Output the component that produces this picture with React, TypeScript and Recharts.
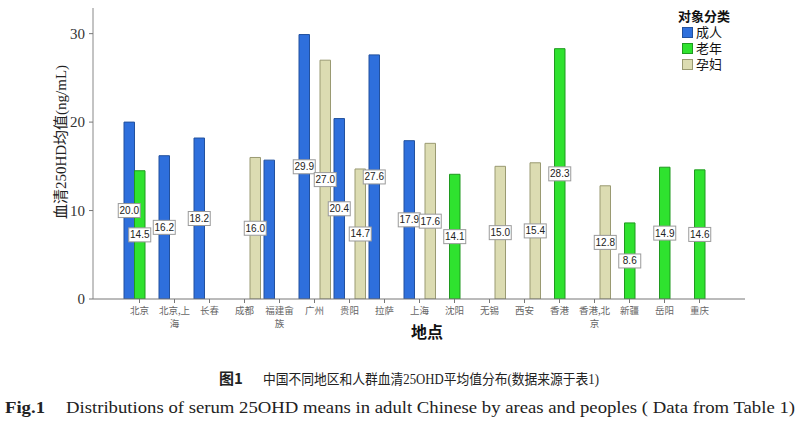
import React from "react";
import { BarChart, Bar, XAxis, YAxis, LabelList } from "recharts";

const categories = [
  "北京", "北京,上\n海", "长春", "成都", "福建畲\n族", "广州", "贵阳", "拉萨", "上海",
  "沈阳", "无锡", "西安", "香港", "香港,北\n京", "新疆", "岳阳", "重庆",
];
const adult = [20.0, 16.2, 18.2, null, 15.7, 29.9, 20.4, 27.6, 17.9, null, null, null, null, null, null, null, null];
const elderly = [14.5, null, null, null, null, null, null, null, null, 14.1, null, null, 28.3, null, 8.6, 14.9, 14.6];
const pregnant = [null, null, null, 16.0, null, 27.0, 14.7, null, 17.6, null, 15.0, 15.4, null, 12.8, null, null, null];
const hiddenLabels = ["福建畲\n族"];
const yTicks = [0, 10, 20, 30];

const seriesNames = ["成人", "老年", "孕妇"];
const seriesColors = ["#2e6fdc", "#2fe22f", "#dcdcb2"];
const seriesStrokes = ["#22519e", "#1f9a1f", "#9a9a72"];

const data = categories.map((c, i) => ({
  name: c,
  adult: adult[i],
  elderly: elderly[i],
  pregnant: pregnant[i],
  adultLabel: hiddenLabels.includes(c) ? null : adult[i],
  elderlyLabel: hiddenLabels.includes(c) ? null : elderly[i],
  pregnantLabel: hiddenLabels.includes(c) ? null : pregnant[i],
}));

const BoxLabel = (props: any) => {
  const { x, y, width, height, value } = props;
  if (value == null || value === "") return null;
  const cx = x + width / 2;
  const cy = y + height / 2;
  const txt = Number(value).toFixed(1);
  const w = 22;
  const h = 14;
  return (
    <g>
      <rect x={cx - w / 2} y={cy - h / 2} width={w} height={h} fill="#ffffff" stroke="#9a9a9a" strokeWidth={1} />
      <text x={cx} y={cy + 3.5} textAnchor="middle" fontSize={10} fontFamily="Liberation Sans, Arial, sans-serif" fill="#222">
        {txt}
      </text>
    </g>
  );
};

const XTick = (props: any) => {
  const { x, y, payload } = props;
  const lines = String(payload.value).split("\n");
  return (
    <g>
      {lines.map((l: string, i: number) => (
        <text
          key={i}
          x={x}
          y={y + 9 + i * 13}
          textAnchor="middle"
          fontSize={9.5}
          fontFamily="Noto Sans CJK SC, sans-serif"
          fill="#666"
        >
          {l}
        </text>
      ))}
    </g>
  );
};

const YTick = (props: any) => {
  const { x, y, payload } = props;
  return (
    <text x={x - 2} y={y + 5} textAnchor="end" fontSize={15} fontFamily="Liberation Serif, serif" fill="#333">
      {payload.value}
    </text>
  );
};

export default function App() {
  return (
    <div style={{ position: "absolute", left: 0, top: 0, width: 800, height: 426, background: "#fff" }}>
      <BarChart
        width={800}
        height={426}
        data={data}
        margin={{ top: 8, right: 55, bottom: 107, left: 0 }}
        barSize={10.5}
        barGap={0}
      >
        <XAxis
          dataKey="name"
          interval={0}
          tick={<XTick />}
          tickLine={{ stroke: "#777" }}
          tickSize={4}
          axisLine={{ stroke: "#777" }}
          padding={{ left: 29, right: 28 }}
          height={20}
        />
        <YAxis
          width={93}
          domain={[0, 32.9]}
          ticks={yTicks}
          tick={<YTick />}
          tickLine={{ stroke: "#777" }}
          tickSize={4}
          axisLine={{ stroke: "#888" }}
          allowDataOverflow
        />
        <Bar dataKey="adult" name="成人" fill={seriesColors[0]} stroke={seriesStrokes[0]} strokeWidth={1} isAnimationActive={false}>
          <LabelList dataKey="adultLabel" content={<BoxLabel />} />
        </Bar>
        <Bar dataKey="elderly" name="老年" fill={seriesColors[1]} stroke={seriesStrokes[1]} strokeWidth={1} isAnimationActive={false}>
          <LabelList dataKey="elderlyLabel" content={<BoxLabel />} />
        </Bar>
        <Bar dataKey="pregnant" name="孕妇" fill={seriesColors[2]} stroke={seriesStrokes[2]} strokeWidth={1} isAnimationActive={false}>
          <LabelList dataKey="pregnantLabel" content={<BoxLabel />} />
        </Bar>
      </BarChart>
      <div
        style={{
          position: "absolute",
          left: 678,
          top: 8,
          fontFamily: "Noto Sans CJK SC, sans-serif",
          color: "#111",
          lineHeight: "16px",
        }}
      >
        <div style={{ fontSize: 13, fontWeight: 700 }}>对象分类</div>
        {seriesNames.map((n, i) => (
          <div key={n} style={{ display: "flex", alignItems: "center", fontSize: 13, height: 16, marginLeft: 4 }}>
            <span
              style={{
                display: "inline-block",
                width: 9,
                height: 9,
                background: seriesColors[i],
                border: `1px solid ${seriesStrokes[i]}`,
                marginRight: 3,
              }}
            />
            <span>{n}</span>
          </div>
        ))}
      </div>
      <svg width={800} height={426} style={{ position: "absolute", left: 0, top: 0, pointerEvents: "none" }}>
        <text
          transform="translate(66,142) rotate(-90)"
          textAnchor="middle"
          fontSize={15}
          fontFamily="Liberation Serif, Noto Sans CJK SC, serif"
          fill="#222"
        >
          血清250HD均值(ng/mL)
        </text>
        <text x={427} y={338} textAnchor="middle" fontSize={16} fontWeight={700} fontFamily="Noto Sans CJK SC, sans-serif" fill="#111">
          地点
        </text>
        <text x={219} y={384} fontSize={15} fontWeight={700} fontFamily="Noto Sans CJK SC, sans-serif" fill="#222">
          图1
        </text>
        <text x={263} y={384} fontSize={14} fontFamily="Liberation Serif, Noto Sans CJK SC, serif" fill="#222" textLength={336} lengthAdjust="spacingAndGlyphs">
          中国不同地区和人群血清25OHD平均值分布(数据来源于表1)
        </text>
        <text x={5} y={413} fontSize={17} fontWeight={700} fontFamily="Liberation Serif, serif" fill="#222" textLength={40} lengthAdjust="spacingAndGlyphs">
          Fig.1
        </text>
        <text x={66} y={413} fontSize={17} fontFamily="Liberation Serif, serif" fill="#222" textLength={729} lengthAdjust="spacingAndGlyphs">
          Distributions of serum 25OHD means in adult Chinese by areas and peoples ( Data from Table 1)
        </text>
      </svg>
    </div>
  );
}
